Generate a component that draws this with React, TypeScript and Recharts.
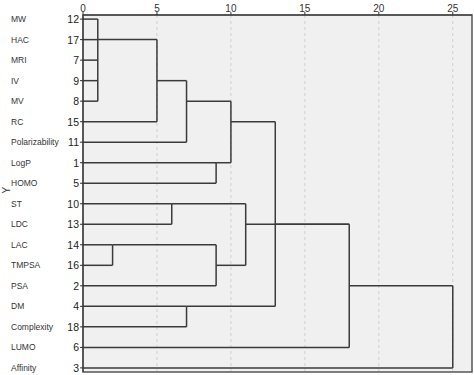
import { LineChart, Line, XAxis, YAxis, CartesianGrid, ReferenceArea } from 'recharts';

// leaf order as shown top to bottom
const labels = ['MW', 'HAC', 'MRI', 'IV', 'MV', 'RC', 'Polarizability', 'LogP', 'HOMO', 'ST', 'LDC', 'LAC', 'TMPSA', 'PSA', 'DM', 'Complexity', 'LUMO', 'Affinity'];
const caseNumbers = [12, 17, 7, 9, 8, 15, 11, 1, 5, 10, 13, 14, 16, 2, 4, 18, 6, 3];
const xTicks = [0, 5, 10, 15, 20, 25];

// merges: children are leaf rows (number) or earlier merge index ('m3')
const mergeChildren: (number | string)[][] = [
  [0, 1, 2, 3, 4],
  [11, 12],
  ['m0', 5],
  [9, 10],
  ['m2', 6],
  [14, 15],
  [7, 8],
  ['m1', 13],
  ['m4', 'm6'],
  ['m3', 'm7'],
  ['m8', 'm5'],
  ['m9', 'm10', 16],
  ['m11', 17],
];
// rescaled distance of each merge
const mergeHeights = [1, 2, 5, 6, 7, 7, 9, 9, 10, 11, 13, 18, 25];
// row where the merged cluster's line leaves
const mergeRows = [1, 11, 3, 9, 4, 14, 7, 12, 5, 10, 10, 13, 15];

const X_MAX = 26.3;
const Y_MIN = -0.2;
const Y_MAX = 17.2;
const FONT = 'Liberation Sans, Arial, sans-serif';

type Pt = { x: number; y: number };

function buildSegments(): Pt[][] {
  const segs: Pt[][] = [];
  mergeChildren.forEach((kids, i) => {
    const h = mergeHeights[i];
    const rows: number[] = [];
    kids.forEach((k) => {
      let ch = 0;
      let row = 0;
      if (typeof k === 'number') {
        row = k;
      } else {
        const j = Number(k.slice(1));
        ch = mergeHeights[j];
        row = mergeRows[j];
      }
      rows.push(row);
      segs.push([{ x: ch, y: row }, { x: h, y: row }]);
    });
    segs.push([{ x: h, y: Math.min(...rows) }, { x: h, y: Math.max(...rows) }]);
  });
  return segs;
}

const segments = buildSegments();

const RowTick = (props: any) => {
  const { x, y, payload } = props;
  const i = payload.value as number;
  return (
    <g>
      <text x={11} y={y} dy={3} fontSize={8.5} fill="#333" fontFamily={FONT}>
        {labels[i]}
      </text>
      <text x={x} y={y} dy={4} textAnchor="end" fontSize={10.5} fill="#222" fontFamily={FONT}>
        {caseNumbers[i]}
      </text>
    </g>
  );
};

export default function App() {
  return (
    <div style={{ position: 'absolute', left: 0, top: 0, background: '#fff' }}>
      <LineChart width={474} height={375} margin={{ top: 0, right: 2, bottom: 3, left: 0 }}>
        <CartesianGrid
          horizontal={false}
          fill="#f0f0f0"
          stroke="#cfcfcf"
          strokeDasharray="3 3"
          verticalValues={xTicks.slice(1)}
        />
        <ReferenceArea x1={0} x2={X_MAX} y1={Y_MIN} y2={Y_MAX} fill="none" stroke="#555" strokeWidth={1.5} />
        <XAxis
          type="number"
          dataKey="x"
          orientation="top"
          domain={[0, X_MAX]}
          ticks={xTicks}
          height={15}
          tickSize={3}
          tickMargin={0}
          allowDataOverflow
          stroke="#333"
          tick={{ fontSize: 10, fill: '#333', fontFamily: FONT }}
        />
        <YAxis
          type="number"
          dataKey="y"
          reversed
          domain={[Y_MIN, Y_MAX]}
          ticks={labels.map((_, i) => i)}
          interval={0}
          width={83}
          tickSize={3}
          tickMargin={1}
          allowDataOverflow
          stroke="#333"
          tick={<RowTick />}
          label={{ value: 'Y', angle: -90, position: 'insideLeft', offset: 6, fontSize: 10, fill: '#333', fontFamily: FONT }}
        />
        {segments.map((s, i) => (
          <Line
            key={i}
            data={s}
            dataKey="y"
            type="linear"
            stroke="#3a3a3a"
            strokeWidth={1.5}
            dot={false}
            activeDot={false}
            isAnimationActive={false}
          />
        ))}
      </LineChart>
    </div>
  );
}
